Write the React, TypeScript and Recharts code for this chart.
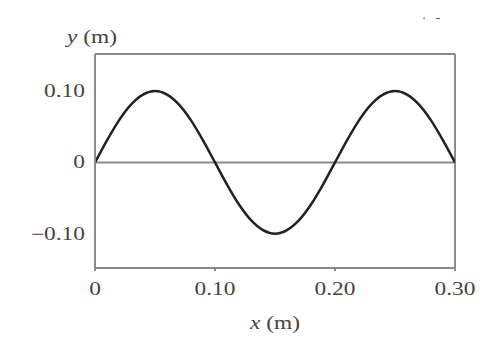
import React from 'react';
import {LineChart, Line, XAxis, YAxis, ReferenceLine, Label} from 'recharts';

// positions along the string (m) and displacement (m)
const xValues = [
    0, 0.01, 0.02, 0.03, 0.04, 0.05, 0.06, 0.07, 0.08, 0.09, 0.10,
    0.11, 0.12, 0.13, 0.14, 0.15, 0.16, 0.17, 0.18, 0.19, 0.20,
    0.21, 0.22, 0.23, 0.24, 0.25, 0.26, 0.27, 0.28, 0.29, 0.30,
];
const yValues = [
    0, 0.031, 0.059, 0.081, 0.095, 0.100, 0.095, 0.081, 0.059, 0.031, 0,
    -0.031, -0.059, -0.081, -0.095, -0.100, -0.095, -0.081, -0.059, -0.031, 0,
    0.031, 0.059, 0.081, 0.095, 0.100, 0.095, 0.081, 0.059, 0.031, 0,
];
const xTicks = [0, 0.1, 0.2, 0.3];
const xTickLabels = ['0', '0.10', '0.20', '0.30'];
const yTicks = [-0.1, 0, 0.1];
const yTickLabels = ['\u22120.10', '0', '0.10'];

const data = xValues.map((x, i) => ({x: x, y: yValues[i]}));

const FONT = '"Liberation Serif", "DejaVu Serif", serif';
const TEXT = '#444';
const GRAY = '#8a8a8a';
const STRETCH = 1.3;

const XTick = (props: any) => {
    const {x, y, index} = props;
    return (
        <text transform={`translate(${x},${y + 22}) scale(${STRETCH},1)`} textAnchor="middle"
              fontFamily={FONT} fontSize={18} fill={TEXT}>
            {xTickLabels[index]}
        </text>
    );
};

const YTick = (props: any) => {
    const {y, index} = props;
    return (
        <text transform={`translate(77,${y + 6}) scale(${STRETCH},1)`} textAnchor="end"
              fontFamily={FONT} fontSize={18} fill={TEXT}>
            {yTickLabels[index]}
        </text>
    );
};

const App: React.FC = () => {
    return (
        <LineChart width={490} height={344} data={data}
                   margin={{top: 46, right: 43, left: 0, bottom: 0}}>
            <XAxis dataKey="x" type="number" domain={[0, 0.3]} ticks={xTicks} height={84}
                   axisLine={{stroke: GRAY, strokeWidth: 2}} tickLine={{stroke: GRAY, strokeWidth: 2}}
                   tickSize={3} tick={<XTick/>} allowDataOverflow>
                <Label content={() => (
                    <text transform={`translate(267,321) scale(${STRETCH},1)`} textAnchor="middle"
                          fontFamily={FONT} fontSize={18} fill={TEXT}>
                        <tspan fontStyle="italic">x</tspan> (m)
                    </text>
                )}/>
            </XAxis>
            <YAxis type="number" domain={[-0.148, 0.152]} ticks={yTicks} width={87}
                   axisLine={{stroke: GRAY, strokeWidth: 2}} tickLine={false}
                   tick={<YTick/>} allowDataOverflow>
                <Label content={() => (
                    <g>
                        <text transform={`translate(84,35) scale(${STRETCH},1)`} textAnchor="middle"
                              fontFamily={FONT} fontSize={18} fill={TEXT}>
                            <tspan fontStyle="italic">y</tspan> (m)
                        </text>
                        <text x={414} y={14} fontFamily={FONT} fontSize={12} fill={TEXT}>·</text>
                        <text x={428} y={14} fontFamily={FONT} fontSize={12} fill={TEXT}>-</text>
                        <text x={487} y={14} fontFamily={FONT} fontSize={12} fill={TEXT}>·</text>
                    </g>
                )}/>
            </YAxis>
            <ReferenceLine y={0.152} stroke={GRAY} strokeWidth={2}/>
            <ReferenceLine x={0.3} stroke={GRAY} strokeWidth={2}/>
            <ReferenceLine y={0} stroke={GRAY} strokeWidth={2}/>
            <Line dataKey="y" type="monotone" stroke="#222" strokeWidth={2.5} dot={false}
                  isAnimationActive={false}/>
        </LineChart>
    );
};

export default App;
